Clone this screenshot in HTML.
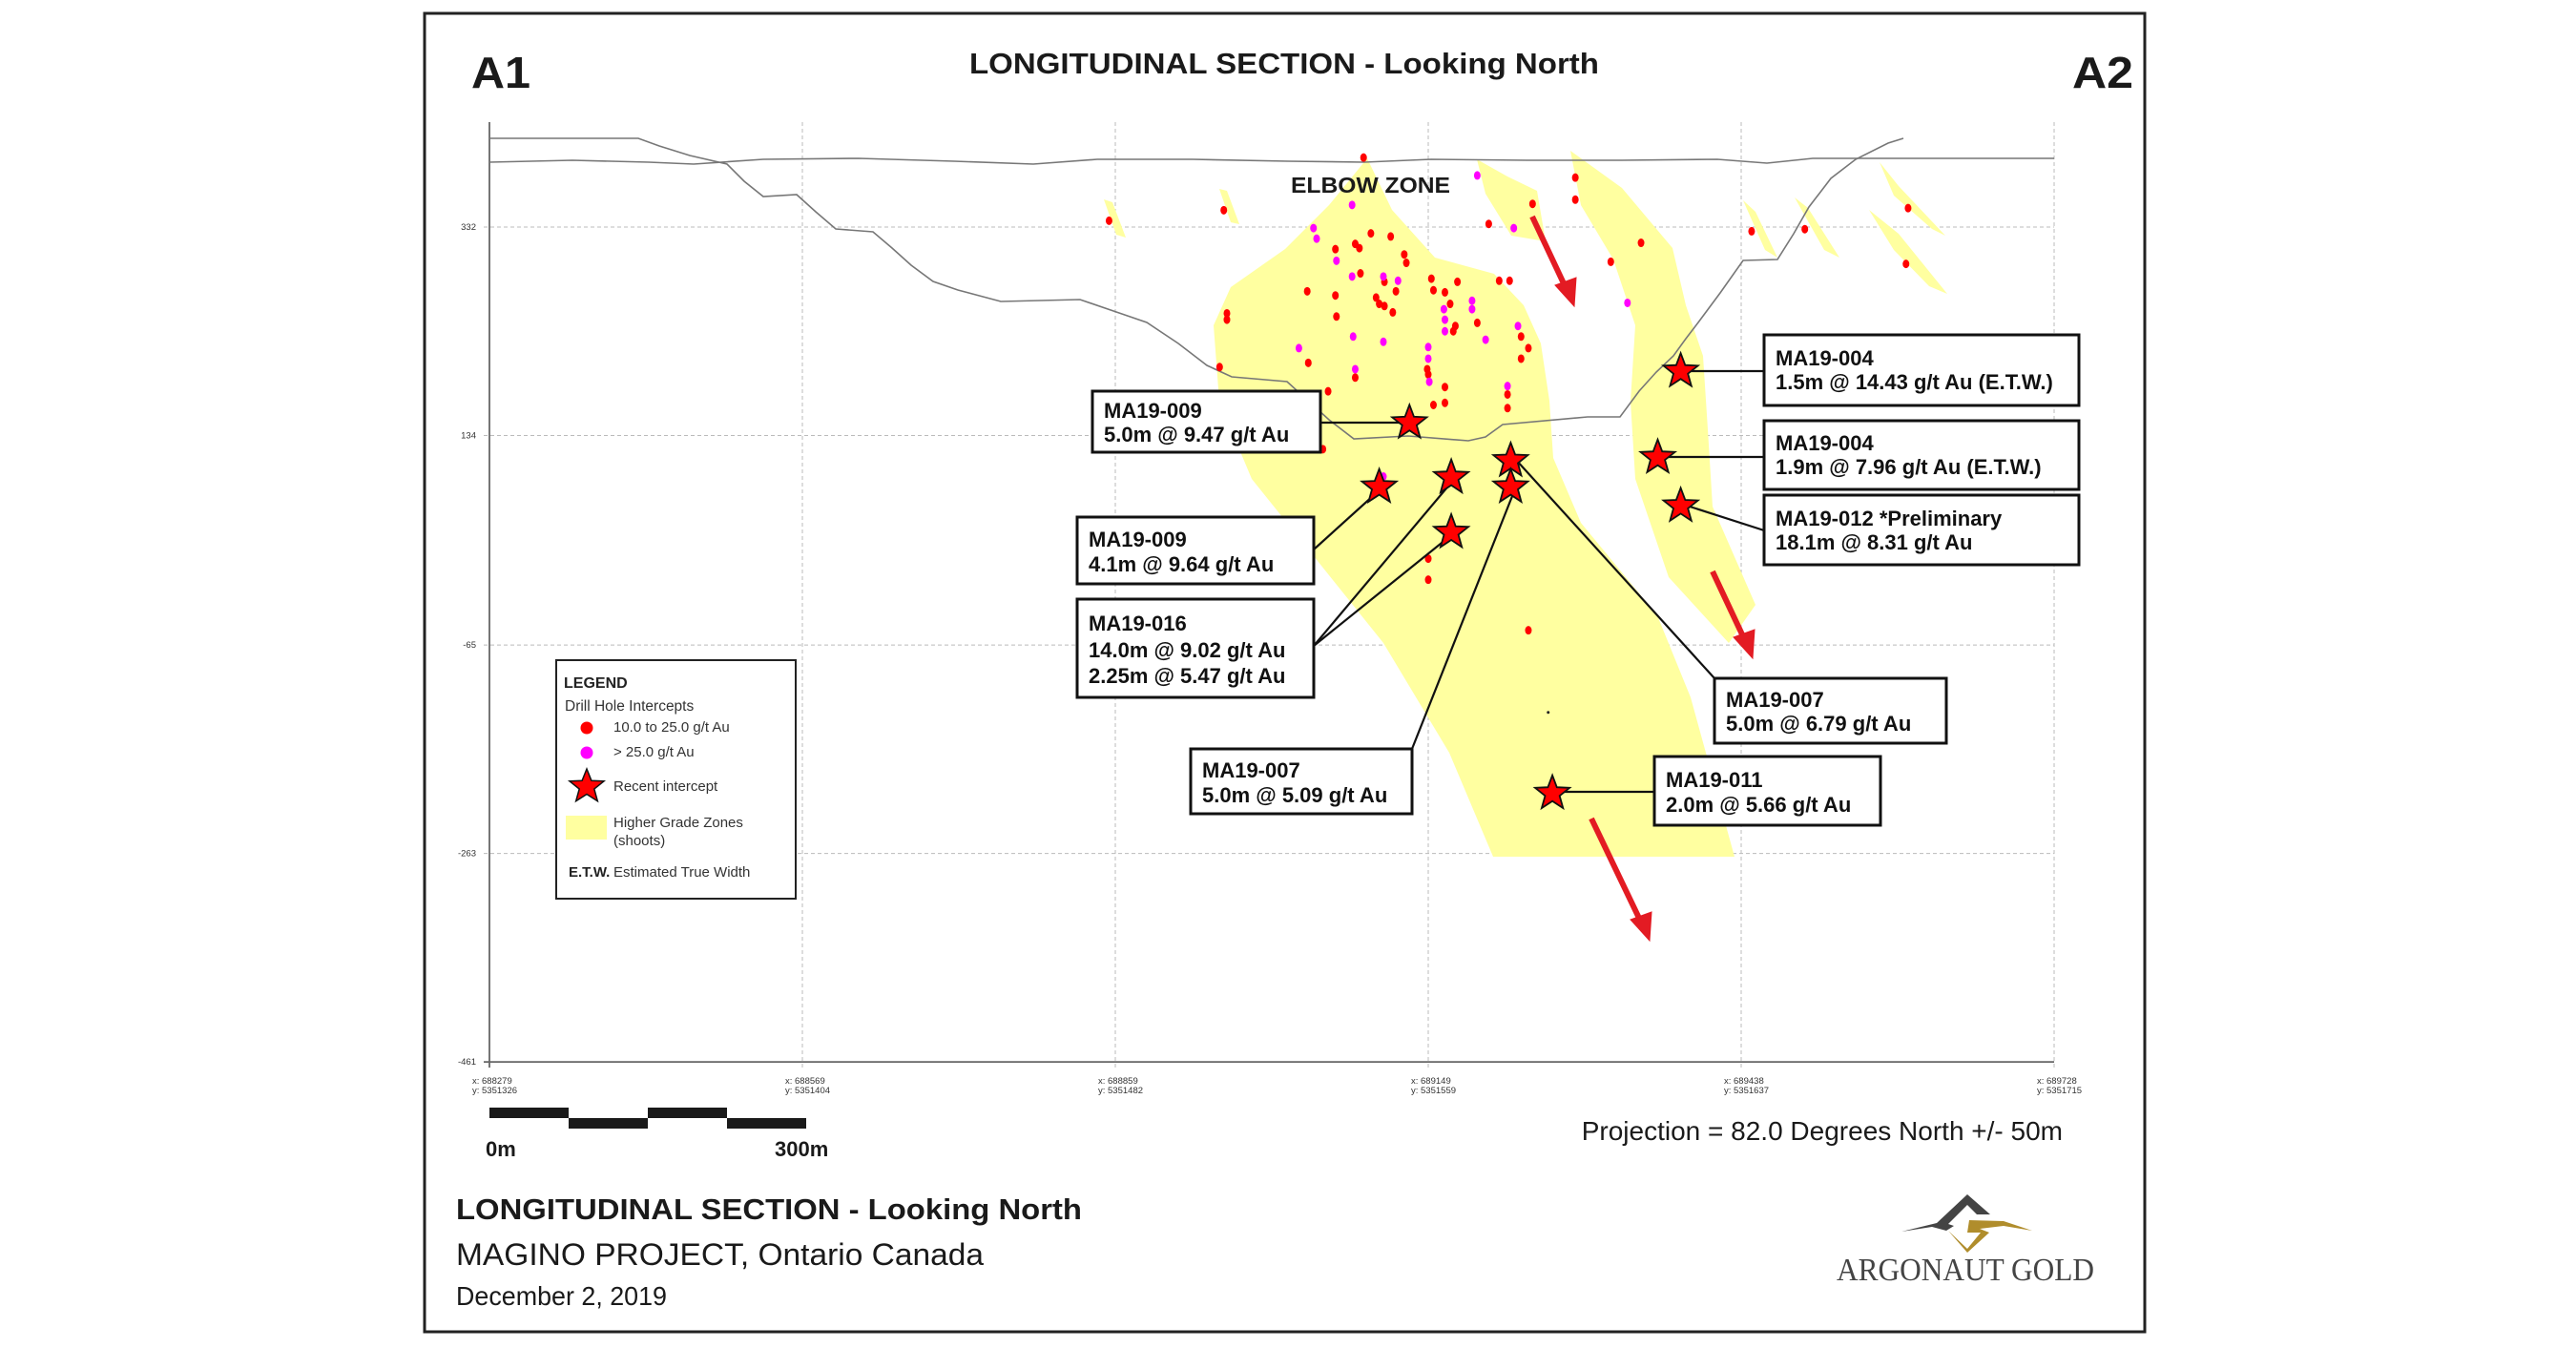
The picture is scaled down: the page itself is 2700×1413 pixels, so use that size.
<!DOCTYPE html>
<html><head><meta charset="utf-8"><title>Longitudinal Section</title>
<style>
html,body{margin:0;padding:0;background:#fff;}
svg{display:block;font-family:"Liberation Sans",sans-serif;}
</style></head>
<body>
<svg id="chart" width="2700" height="1413" viewBox="0 0 2700 1413" xmlns="http://www.w3.org/2000/svg">
<rect x="0" y="0" width="2700" height="1413" fill="#fff"/>
<rect x="445" y="14" width="1803" height="1382" fill="none" stroke="#222" stroke-width="3"/>
<text x="494" y="92" font-size="46" font-weight="bold" fill="#1a1a1a" textLength="62" lengthAdjust="spacingAndGlyphs">A1</text>
<text x="2172" y="92" font-size="46" font-weight="bold" fill="#1a1a1a" textLength="64" lengthAdjust="spacingAndGlyphs">A2</text>
<text x="1016" y="77" font-size="31" font-weight="bold" fill="#1a1a1a" textLength="660" lengthAdjust="spacingAndGlyphs">LONGITUDINAL SECTION - Looking North</text>

<g id="grid"></g>

<g fill="#ffffa0">
<polygon points="1433,166 1459,220 1504,270 1566,287 1597,320 1615,360 1624,420 1628,480 1657,548 1737,645 1772,731 1818,898 1565,898 1519,789 1450,674 1381,588 1312,502 1278,421 1272,341 1290,301 1347,261 1393,215"/>
<polygon points="1548,167 1580,185 1611,200 1620,253 1584,247 1557,203"/>
<polygon points="1646,158 1700,197 1753,260 1767,320 1785,373 1790,450 1795,531 1840,634 1812,674 1749,605 1714,502 1709,421 1714,341 1691,272 1657,215"/>
<polygon points="1157,209 1166,212 1180,249 1170,246"/>
<polygon points="1278,198 1286,200 1299,235 1290,233"/>
<polygon points="1827,210 1840,222 1863,270 1850,262"/>
<polygon points="1881,207 1895,218 1928,270 1912,262"/>
<polygon points="1970,170 1990,195 2039,247 2025,240 1985,205"/>
<polygon points="1959,220 1990,245 2041,308 2022,300 1985,262"/>
</g>

<polyline fill="none" stroke="#777" stroke-width="1.6" points="513,145 669,145 691,153 723,163 762,172 780,190 800,206 835,204 855,222 876,240 915,243 935,260 955,278 978,295 1004,304 1049,316 1132,314 1170,327 1202,338 1235,360 1265,383 1291,395 1349,400 1393,440 1419,460 1476,457 1539,462 1557,458 1575,445 1664,437 1698,437 1718,410 1736,390 1754,373 1767,355 1780,338 1803,307 1827,273 1863,272 1880,245 1896,217 1919,187 1945,167 1979,150 1995,145"/>
<polyline fill="none" stroke="#777" stroke-width="1.6" points="513,170 600,168 680,170 727,172 800,167 900,166 1000,169 1083,172 1150,167 1250,167 1350,169 1430,170 1500,167 1600,168 1700,168 1800,167 1852,171 1900,166 2000,166 2153,166"/>

<g stroke="#e31b23" fill="#e31b23">
<line x1="1606" y1="227" x2="1645" y2="310" stroke-width="6"/>
<polygon points="1650,321 1630,299 1652,291"/>
<line x1="1795" y1="599" x2="1833" y2="680" stroke-width="6"/>
<polygon points="1837,690 1817,668 1839,660"/>
<line x1="1668" y1="858" x2="1724" y2="975" stroke-width="6"/>
<polygon points="1729,986 1709,964 1731,956"/>
</g>

<text x="1353" y="202" font-size="23" font-weight="bold" fill="#1a1a1a" textLength="167" lengthAdjust="spacingAndGlyphs">ELBOW ZONE</text>

<g id="dots"></g>

<g stroke="#111" stroke-width="2.2" fill="none">
<line x1="1384" y1="443" x2="1482" y2="443"/>
<line x1="1377" y1="576" x2="1450" y2="510"/>
<line x1="1377" y1="677" x2="1526" y2="500"/>
<line x1="1377" y1="677" x2="1526" y2="557"/>
<line x1="1480" y1="785" x2="1589" y2="510"/>
<line x1="1849" y1="389" x2="1768" y2="389"/>
<line x1="1849" y1="479" x2="1743" y2="479"/>
<line x1="1849" y1="556" x2="1768" y2="530"/>
<line x1="1797" y1="711" x2="1589" y2="482"/>
<line x1="1734" y1="830" x2="1632" y2="830"/>
</g>

<g id="stars"></g>

<g font-size="22" font-weight="bold" fill="#111">
<g><rect x="1145" y="410" width="239" height="64" fill="#fff" stroke="#111" stroke-width="3"/><text x="1157" y="438">MA19-009</text><text x="1157" y="463">5.0m @ 9.47 g/t Au</text></g>
<g><rect x="1129" y="542" width="248" height="70" fill="#fff" stroke="#111" stroke-width="3"/><text x="1141" y="573">MA19-009</text><text x="1141" y="599">4.1m @ 9.64 g/t Au</text></g>
<g><rect x="1129" y="628" width="248" height="103" fill="#fff" stroke="#111" stroke-width="3"/><text x="1141" y="661">MA19-016</text><text x="1141" y="689">14.0m @ 9.02 g/t Au</text><text x="1141" y="716">2.25m @ 5.47 g/t Au</text></g>
<g><rect x="1248" y="785" width="232" height="68" fill="#fff" stroke="#111" stroke-width="3"/><text x="1260" y="815">MA19-007</text><text x="1260" y="841">5.0m @ 5.09 g/t Au</text></g>
<g><rect x="1849" y="351" width="330" height="74" fill="#fff" stroke="#111" stroke-width="3"/><text x="1861" y="383">MA19-004</text><text x="1861" y="408">1.5m @ 14.43 g/t Au (E.T.W.)</text></g>
<g><rect x="1849" y="441" width="330" height="72" fill="#fff" stroke="#111" stroke-width="3"/><text x="1861" y="472">MA19-004</text><text x="1861" y="497">1.9m @ 7.96 g/t Au (E.T.W.)</text></g>
<g><rect x="1849" y="519" width="330" height="73" fill="#fff" stroke="#111" stroke-width="3"/><text x="1861" y="551">MA19-012 *Preliminary</text><text x="1861" y="576">18.1m @ 8.31 g/t Au</text></g>
<g><rect x="1797" y="711" width="243" height="68" fill="#fff" stroke="#111" stroke-width="3"/><text x="1809" y="741">MA19-007</text><text x="1809" y="766">5.0m @ 6.79 g/t Au</text></g>
<g><rect x="1734" y="793" width="237" height="72" fill="#fff" stroke="#111" stroke-width="3"/><text x="1746" y="825">MA19-011</text><text x="1746" y="851">2.0m @ 5.66 g/t Au</text></g>
</g>

<g>
<rect x="583" y="692" width="251" height="250" fill="#fff" stroke="#222" stroke-width="2"/>
<text x="591" y="721" font-size="16" font-weight="bold" fill="#222">LEGEND</text>
<text x="592" y="745" font-size="15.5" fill="#333">Drill Hole Intercepts</text>
<circle cx="615" cy="763" r="6.5" fill="#f00"/>
<text x="643" y="767" font-size="15" fill="#333">10.0 to 25.0 g/t Au</text>
<circle cx="615" cy="789" r="6.5" fill="#f0f"/>
<text x="643" y="793" font-size="15" fill="#333">&gt; 25.0 g/t Au</text>
<polygon points="615,806 619.9,818.3 633,818.8 622.8,827 626.3,839.7 615,832.5 603.7,839.7 607.2,827 597,818.8 610.1,818.3" fill="#f00" stroke="#111" stroke-width="1.5"/>
<text x="643" y="829" font-size="15" fill="#333">Recent intercept</text>
<rect x="593" y="855" width="43" height="25" fill="#ffffa0"/>
<text x="643" y="867" font-size="15" fill="#333">Higher Grade Zones</text>
<text x="643" y="886" font-size="15" fill="#333">(shoots)</text>
<text x="596" y="919" font-size="15" font-weight="bold" fill="#222">E.T.W.</text>
<text x="643" y="919" font-size="15" fill="#333">Estimated True Width</text>
</g>

<g fill="#1a1a1a">
<rect x="513" y="1161" width="83" height="11"/><rect x="596" y="1172" width="83" height="11"/>
<rect x="679" y="1161" width="83" height="11"/><rect x="762" y="1172" width="83" height="11"/>
<text x="509" y="1212" font-size="22" font-weight="bold">0m</text>
<text x="812" y="1212" font-size="22" font-weight="bold">300m</text>
</g>

<text x="2162" y="1195" font-size="28" text-anchor="end" fill="#1a1a1a">Projection = 82.0 Degrees North +/- 50m</text>

<text x="478" y="1278" font-size="31" font-weight="bold" fill="#1a1a1a" textLength="656" lengthAdjust="spacingAndGlyphs">LONGITUDINAL SECTION - Looking North</text>
<text x="478" y="1326" font-size="32" fill="#1a1a1a" textLength="553" lengthAdjust="spacingAndGlyphs">MAGINO PROJECT, Ontario Canada</text>
<text x="478" y="1368" font-size="28" fill="#1a1a1a" textLength="221" lengthAdjust="spacingAndGlyphs">December 2, 2019</text>

<g>
<polygon points="1993,1291 2030,1282 2062,1252 2086,1273 2072,1273 2062,1263 2042,1283 2048,1285 2040,1290 2025,1286" fill="#444"/>
<polygon points="2042,1290 2062,1309 2076,1292 2062,1292 2064,1279 2100,1280 2130,1290 2100,1285 2075,1288 2085,1292 2062,1313" fill="#b08d2c"/>
<text x="1925" y="1342" font-family="'Liberation Serif',serif" font-size="34" fill="#444" textLength="270" lengthAdjust="spacingAndGlyphs">ARGONAUT GOLD</text>
</g>

<script>
// axis: x in metres along section, y elevation (m)
var xTickEast = ["x: 688279","x: 688569","x: 688859","x: 689149","x: 689438","x: 689728"];
var xTickNorth = ["y: 5351326","y: 5351404","y: 5351482","y: 5351559","y: 5351637","y: 5351715"];
var xTickDist = [0,300,600,900,1200,1500];
var yTickElev = [332,134,-65,-263,-461];
var yTickLabels = ["332","134","-65","-263","-461"];
var redX = [838,594,704,1000,958,1041,1041,1210,1261,1104,1075,1360,1358,845,864,830,834,877,879,811,835,858,853,858,869,903,905,928,968,978,784,811,812,850,866,916,921,926,924,947,989,996,989,707,707,700,785,830,899,900,916,916,905,976,976,804,799,996,900,900];
var redY = [398,338,348,354,335,379,358,328,330,317,299,350,297,326,323,316,312,306,298,311,288,280,259,257,271,283,272,280,281,281,271,267,247,265,251,270,259,238,233,241,228,217,207,250,244,199,203,189,197,192,180,165,163,173,160,176,121,-51,17,-3];
var magX = [827,790,793,812,827,857,871,857,828,915,916,916,942,942,955,982,947,776,900,900,830,976,901,986,857,1091];
var magY = [353,331,321,300,285,285,281,223,228,254,244,233,262,254,225,331,381,217,218,207,197,181,185,238,95,260];
var starX = [882,853,922,979,979,922,1142,1120,1142,1019];
var starY = [146,85,94,110,85,42,195,113,67,-206];

var X0=513, XS=328/300, Y0=238, YS=218.5/198;
function sx(v){return X0+v*XS;}
function sy(e){return Y0+(332-e)*YS;}
var NS="http://www.w3.org/2000/svg";
function mk(tag,attrs,parent){var el=document.createElementNS(NS,tag);for(var k in attrs)el.setAttribute(k,attrs[k]);parent.appendChild(el);return el;}

var grid=document.getElementById('grid');
var yBottom=sy(-461), yTop=128;
xTickDist.forEach(function(d,i){
  var x=sx(d);
  var gl=mk('line',{x1:x,y1:yTop,x2:x,y2:yBottom+6,stroke:(i==0?'#666':'#bbb'),'stroke-width':(i==0?1.8:1),'stroke-dasharray':(i==0?'':'4,3')},grid);
  
  
  var t1=mk('text',{x:x-18,y:yBottom+23,'font-size':9.5,fill:'#333'},grid);t1.textContent=xTickEast[i];
  
  
  var t2=mk('text',{x:x-18,y:yBottom+33,'font-size':9.5,fill:'#333'},grid);t2.textContent=xTickNorth[i];
  
  
});
yTickElev.forEach(function(e,i){
  var y=sy(e);
  var gl=mk('line',{x1:X0-6,y1:y,x2:sx(1500),y2:y,stroke:(i==4?'#666':'#bbb'),'stroke-width':(i==4?1.8:1),'stroke-dasharray':(i==4?'':'4,3')},grid);
  
  
  var t=mk('text',{x:X0-14,y:y+3,'font-size':9.5,fill:'#333','text-anchor':'end'},grid);t.textContent=yTickLabels[i];
  
  
});

var dots=document.getElementById('dots');
redX.forEach(function(v,i){
  var c=mk('ellipse',{cx:sx(v),cy:sy(redY[i]),rx:3.5,ry:4.5,fill:'#f00'},dots);
  
  
});
magX.forEach(function(v,i){
  var c=mk('ellipse',{cx:sx(v),cy:sy(magY[i]),rx:3.5,ry:4.5,fill:'#f0f'},dots);
  
  
});
var bd=mk('circle',{cx:sx(1015),cy:sy(-129),r:1.5,fill:'#222'},dots);



var stars=document.getElementById('stars');
function starPts(cx,cy,R){var r=R*0.42,p=[];for(var k=0;k<10;k++){var a=-Math.PI/2+k*Math.PI/5,rr=(k%2?r:R);p.push((cx+rr*Math.cos(a)).toFixed(1)+','+(cy+rr*Math.sin(a)).toFixed(1));}return p.join(' ');}
starX.forEach(function(v,i){
  var s=mk('polygon',{points:starPts(sx(v),sy(starY[i]),19),fill:'#f00',stroke:'#111','stroke-width':1.8},stars);
  
  
});
</script>
</svg>
</body></html>
